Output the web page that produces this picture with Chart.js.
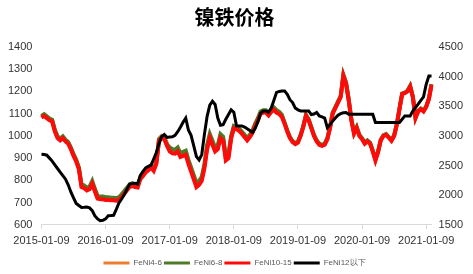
<!DOCTYPE html>
<html lang="zh">
<head>
<meta charset="UTF-8">
<title>镍铁价格</title>
<script src="https://cdn.jsdelivr.net/npm/chart.js"></script>
<style>
    body { margin: 0; background: #fff; }
    .wrap { width: 473px; height: 274px; }
</style>
</head>
<body>
<div class="wrap"><canvas id="nickelChart"></canvas></div>
<script>
    // categories: half-month steps starting 2015-01-09
    const years = [2015, 2016, 2017, 2018, 2019, 2020, 2021];
    const days = ['09', '24'];
    const pointCount = 147;

    // FeNi10-15 (left axis)
    const feNi10to15 = [1082,1090,1080,1070,1065,1020,990,980,990,975,
        965,940,910,885,850,770,765,755,760,785,
        750,718,715,715,712,712,710,710,708,712,
        725,740,755,770,775,770,768,805,820,835,
        845,858,843,875,978,990,985,955,930,922,
        920,930,905,910,915,874,840,805,770,780,
        798,855,940,990,960,930,940,990,978,890,
        900,990,1035,1030,1023,1010,995,980,995,1015,
        1045,1070,1100,1105,1105,1092,1108,1118,1105,1098,
        1085,1055,1020,990,972,963,970,1000,1040,1090,
        1070,1035,1000,975,960,955,960,985,1035,1100,
        1125,1150,1175,1270,1235,1160,1070,1010,1035,1000,
        985,965,975,965,930,890,928,980,1000,1005,
        992,978,1000,1050,1120,1188,1192,1200,1222,1175,
        1080,1110,1120,1110,1130,1165,1230];

    // FeNi6-8 (left axis)
    const feNi6to8 = [1090,1098,1088,1078,1073,1028,998,988,998,983,
        973,948,918,893,858,782,777,767,772,797,
        762,730,727,727,724,724,722,722,720,724,
        737,752,767,782,787,782,780,810,825,840,
        850,863,848,880,983,995,990,960,948,940,
        938,948,923,928,933,892,858,823,788,798,
        816,873,958,1008,978,948,958,1008,996,908,
        918,1000,1045,1040,1033,1020,1005,990,1005,1025,
        1055,1080,1110,1115,1115,1102,1118,1128,1115,1108,
        1095,1060,1025,995,977,968,975,1005,1045,1095,
        1075,1040,1005,980,965,960,965,990,1040,1105,
        1130,1155,1180,1275,1240,1165,1075,1015,1040,1005,
        990,970,980,970,935,895,931,983,1003,1008,
        995,981,1003,1053,1123,1191,1195,1203,1225,1178,
        1083,1113,1123,1113,1133,1168,1233];

    // FeNi4-6 (left axis)
    const feNi4to6 = [1086,1094,1084,1074,1069,1024,994,984,994,979,
        969,944,914,889,854,774,769,759,764,789,
        754,722,719,719,716,716,714,714,712,716,
        729,744,759,774,779,774,772,815,830,845,
        855,868,853,885,988,1000,995,965,940,932,
        930,940,915,920,925,884,850,815,780,790,
        808,865,950,1000,970,940,950,1000,988,900,
        910,992,1037,1032,1025,1012,997,982,997,1017,
        1047,1072,1102,1107,1107,1094,1110,1120,1107,1100,
        1087,1057,1022,992,974,965,972,1002,1042,1092,
        1072,1037,1002,977,962,957,962,987,1037,1102,
        1127,1152,1177,1272,1237,1162,1072,1012,1037,1002,
        987,967,977,967,932,892,930,982,1002,1007,
        994,980,1002,1052,1122,1190,1194,1202,1224,1177,
        1082,1112,1122,1112,1132,1167,1232];

    // FeNi12以下 (right axis)
    const feNiBelow12 = [2690,2685,2675,2625,2575,2510,2450,2390,2330,2270,
        2175,2055,1955,1860,1825,1792,1795,1800,1785,1740,
        1650,1600,1568,1575,1600,1652,1655,1660,1760,1870,
        1935,2010,2100,2186,2195,2200,2186,2335,2400,2460,
        2485,2505,2610,2720,2870,2990,3025,2975,2980,2985,
        3010,3070,3145,3230,3300,3100,3010,2830,2650,2595,
        2685,3030,3330,3520,3585,3530,3300,3180,3190,3280,
        3360,3440,3400,3170,3169,3169,3150,3120,3090,3060,
        3130,3240,3380,3422,3422,3400,3470,3600,3735,3750,
        3759,3759,3700,3610,3563,3470,3440,3422,3422,3422,
        3422,3360,3370,3395,3337,3320,3300,3140,3190,3250,
        3300,3350,3375,3390,3395,3366,3366,3366,3366,3366,
        3366,3366,3366,3366,3366,3225,3225,3225,3225,3225,
        3225,3225,3225,3225,3225,3280,3337,3337,3337,3420,
        3480,3535,3600,3660,3870,4011,4011];

    // build the date labels
    const labels = [];
    years.forEach(y => {
        for (let m = 1; m <= 12; m++) {
            days.forEach(d => {
                if (labels.length < pointCount) {
                    labels.push(`${y}-${String(m).padStart(2, '0')}-${d}`);
                }
            });
        }
    });

    const tickFont = { family: '"Liberation Sans", Arial, sans-serif', size: 11 };

    function series(label, data, color, width, axis, order) {
        return {
            label: label,
            data: data,
            borderColor: color,
            backgroundColor: color,
            borderWidth: width,
            pointRadius: 0,
            tension: 0,
            yAxisID: axis,
            order: order
        };
    }

    new Chart(document.getElementById('nickelChart'), {
        type: 'line',
        data: {
            labels: labels,
            datasets: [
                series('FeNi4-6', feNi4to6, '#ED7D31', 4, 'y', 3),
                series('FeNi6-8', feNi6to8, '#4F7A28', 4, 'y', 2),
                series('FeNi10-15', feNi10to15, '#FF0A0A', 4, 'y', 1),
                series('FeNi12以下', feNiBelow12, '#000000', 3, 'y1', 0)
            ]
        },
        options: {
            responsive: true,
            maintainAspectRatio: false,
            animation: false,
            layout: { padding: { left: -1, right: 3, top: 0, bottom: -3 } },
            plugins: {
                title: {
                    display: true,
                    text: '镍铁价格',
                    color: '#000',
                    font: { family: '"Noto Sans CJK SC", sans-serif', size: 20, weight: 'bold' },
                    padding: { top: 5, bottom: 18 }
                },
                legend: {
                    position: 'bottom',
                    labels: {
                        boxWidth: 26,
                        boxHeight: 3,
                        padding: 2,
                        color: '#595959',
                        font: { family: '"Liberation Sans", Arial, sans-serif', size: 8 },
                        sort: (a, b) => a.datasetIndex - b.datasetIndex,
                        generateLabels: chart => Chart.defaults.plugins.legend.labels.generateLabels(chart)
                            .map(item => Object.assign(item, { lineWidth: 0 }))
                    }
                },
                tooltip: { enabled: false }
            },
            scales: {
                x: {
                    grid: { display: true, drawOnChartArea: false, color: '#d9d9d9', tickLength: 4 },
                    border: { color: '#d9d9d9' },
                    afterFit: scale => { scale.height += 3; },
                    ticks: {
                        autoSkip: false,
                        maxRotation: 0,
                        color: '#333',
                        font: tickFont,
                        padding: 6,
                        callback: (v, i) => (i % 24 === 0 ? labels[i] : null)
                    }
                },
                y: {
                    position: 'left',
                    min: 600,
                    max: 1400,
                    grid: { display: false, drawTicks: false },
                    border: { display: false },
                    ticks: { stepSize: 100, color: '#333', font: tickFont, padding: 9, callback: v => String(v) }
                },
                y1: {
                    position: 'right',
                    min: 1500,
                    max: 4500,
                    grid: { display: false, drawTicks: false },
                    border: { display: false },
                    ticks: { stepSize: 500, color: '#333', font: tickFont, padding: 7, callback: v => String(v) }
                }
            }
        }
    });
</script>
</body>
</html>
